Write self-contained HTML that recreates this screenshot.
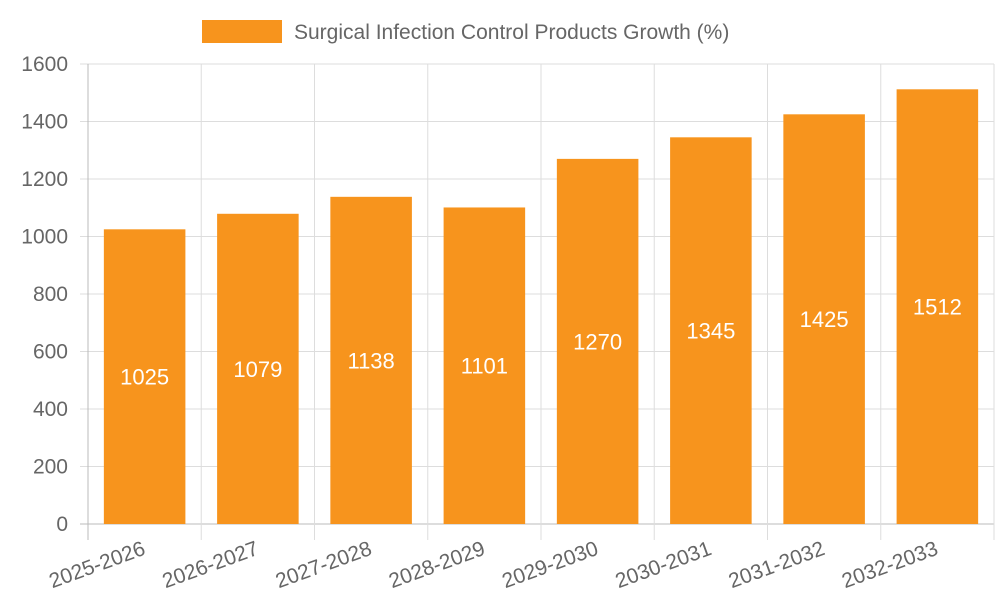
<!DOCTYPE html>
<html><head><meta charset="utf-8"><style>
body{margin:0;background:#fff;}
svg{display:block;font-family:"Liberation Sans",sans-serif;}
</style></head><body>
<svg id="chart" width="1000" height="600">
<g>
<rect x="202" y="20" width="80" height="23" fill="#f7941d"></rect>
<text x="294" y="39" font-size="21" fill="#666">Surgical Infection Control Products Growth (%)</text>
</g>
<g id="grid"></g>
<g id="bars"></g>
<g id="axes"></g>
</svg>
<script>
const categories = ["2025-2026","2026-2027","2027-2028","2028-2029","2029-2030","2030-2031","2031-2032","2032-2033"];
const values = [1025,1079,1138,1101,1270,1345,1425,1512];
const yTicks = [0,200,400,600,800,1000,1200,1400,1600];
const NS="http://www.w3.org/2000/svg";
const L=88,R=994,T=64,B=524,yMax=1600;
const slot=(R-L)/categories.length;
const y=v=>B-(v/yMax)*(B-T);
const x=i=>L+i*slot;
function mk(tag,attrs,parent){const e=document.createElementNS(NS,tag);for(const k in attrs)e.setAttribute(k,attrs[k]);parent.appendChild(e);return e;}
const grid=document.getElementById('grid'),bars=document.getElementById('bars'),axes=document.getElementById('axes');
yTicks.forEach(t=>{
  const ln=mk('line',{x1:L-8,x2:R,y1:y(t),y2:y(t),stroke:t===0?'#bbb':'#ddd','stroke-width':1},grid);
  
  
  const tx=mk('text',{x:L-20,y:y(t)+7,'text-anchor':'end','font-size':21,fill:'#666'},axes);
  tx.textContent=t;
  
  
});
for(let i=0;i<=categories.length;i++){
  const ln=mk('line',{x1:x(i),x2:x(i),y1:T,y2:B+16,stroke:i===0?'#bbb':'#ddd','stroke-width':1},grid);
  
  
}
categories.forEach((c,i)=>{
  const bw=slot*0.72,cx=x(i)+slot/2;
  const r=mk('rect',{x:cx-bw/2,y:y(values[i]),width:bw,height:B-y(values[i]),fill:'#f7941d'},bars);
  
  
  const vt=mk('text',{x:cx,y:(y(values[i])+B)/2+8,'text-anchor':'middle','font-size':22,fill:'#fff'},bars);
  vt.textContent=values[i];
  
  
  const lx=x(i)+slot/2+2,ly=B+30;
  const xt=mk('text',{x:lx,y:ly,'text-anchor':'end','font-size':21,fill:'#666',transform:`rotate(-20 ${lx} ${ly})`},axes);
  xt.textContent=c;
  
  
});
</script>
</body></html>
